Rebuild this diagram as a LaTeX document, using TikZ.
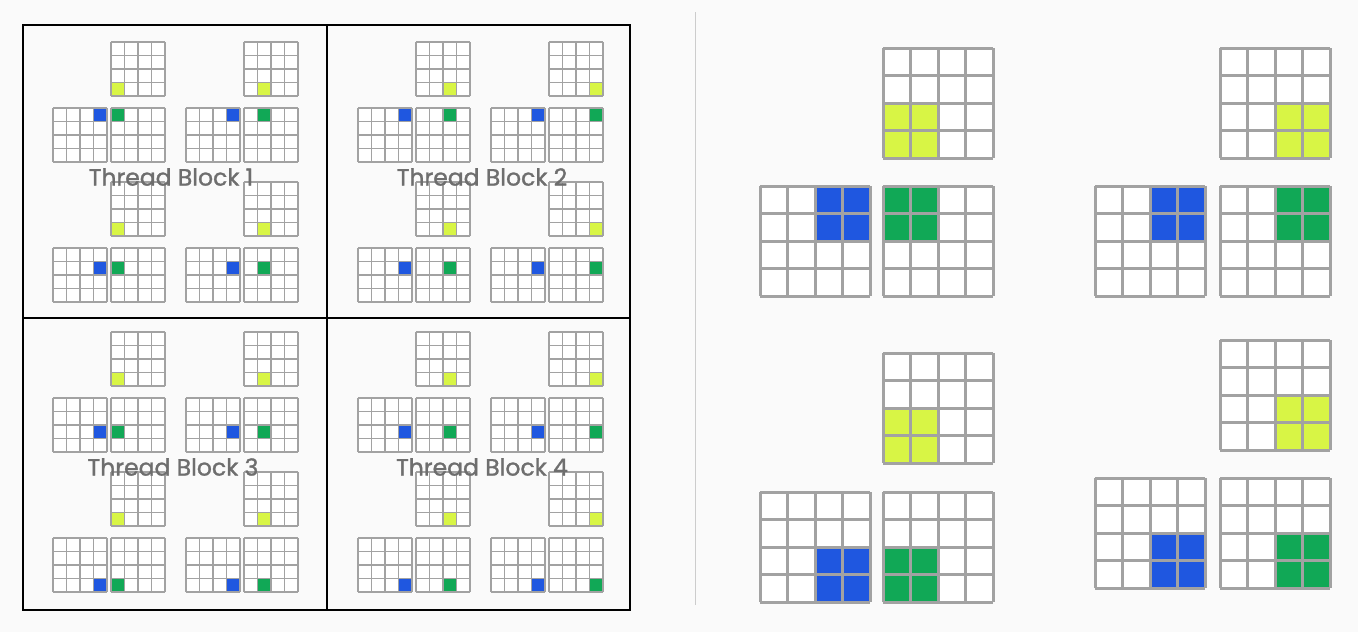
\documentclass[tikz,border=0pt]{standalone}
\usepackage{fontspec}
\setmainfont{Poppins}
\newfontfamily\labfont{Poppins}[FakeBold=1.3]
\definecolor{bg}{HTML}{FAFAFA}
\definecolor{gl}{HTML}{A2A2A2}
\definecolor{cy}{HTML}{D8F545}
\definecolor{cb}{HTML}{1F57E0}
\definecolor{cg}{HTML}{11A856}
\definecolor{tg}{HTML}{6E6E6E}
\newcommand\hlc[7]{\fill[#6] ({#1+#5*#3/4},{#2+#4*#3/4}) rectangle ++({#7*#3/4},{#7*#3/4});}
\newcommand\glines[4]{\fill[white] (#1,#2) rectangle ++(#3,#3);}
\newcommand\gdraw[4]{\foreach \q in {0,...,4}{\draw[gl,line width=#4] ({#1+\q*#3/4},#2) -- ++(0,#3); \draw[gl,line width=#4] (#1,{#2+\q*#3/4}) -- ++(#3,0);}}
\begin{document}
\begin{tikzpicture}[x=1pt,y=-1pt]
\fill[bg] (0,0) rectangle (1358,632);
\useasboundingbox (0,0) rectangle (1358,632);
% left
\foreach \bx in {0,1}{\foreach \by in {0,1}{
 \foreach \gx in {0,1}{\foreach \gy in {0,1}{
  \pgfmathsetmacro\ox{305*\bx+133*\gx}
  \pgfmathsetmacro\oy{290*\by+140*\gy}
  \pgfmathtruncatemacro\ii{2*\by+\gy}
  \pgfmathtruncatemacro\jj{2*\bx+\gx}
  \glines{111+\ox}{42+\oy}{54}{}
  \glines{53+\ox}{108+\oy}{54}{}
  \glines{111+\ox}{108+\oy}{54}{}
  \hlc{111+\ox}{42+\oy}{54}{3}{\jj}{cy}{1}
  \hlc{53+\ox}{108+\oy}{54}{\ii}{3}{cb}{1}
  \hlc{111+\ox}{108+\oy}{54}{\ii}{\jj}{cg}{1}
  \gdraw{111+\ox}{42+\oy}{54}{1.6pt}
  \gdraw{53+\ox}{108+\oy}{54}{1.6pt}
  \gdraw{111+\ox}{108+\oy}{54}{1.6pt}
 }}}}
\draw[line width=1.3pt] (23,25) rectangle (630,610);
\draw[line width=1.3pt] (327,25) -- (327,610);
\draw[line width=1.3pt] (23,318) -- (630,318);
\tikzset{lab/.style={text=tg,font=\labfont\fontsize{23.5}{25}\selectfont}}
\node[lab] (t1) at (171,177) {Thread Block 1};
\node[lab] (t2) at (482,177) {Thread Block 2};
\node[lab] (t3) at (173,467) {Thread Block 3};
\node[lab] (t4) at (482,467) {Thread Block 4};
\draw[gray!40,line width=1pt] (695,12) -- (695,605);
% right
\foreach \ax/\ay/\bxx/\byy/\ai/\bi/\cj in {883/48/760/186/0/0/0, 1220/48/1095/186/2/0/2, 883/353/760/492/0/2/0, 1220/340/1095/478/2/2/2}{
  \glines{\ax}{\ay}{110}{}
  \glines{\bxx}{\byy}{110}{}
  \glines{\ax}{\byy}{110}{}
  \hlc{\ax}{\ay}{110}{2}{\ai}{cy}{2}
  \hlc{\bxx}{\byy}{110}{\bi}{2}{cb}{2}
  \hlc{\ax}{\byy}{110}{\bi}{\cj}{cg}{2}
  \gdraw{\ax}{\ay}{110}{3pt}
  \gdraw{\bxx}{\byy}{110}{3pt}
  \gdraw{\ax}{\byy}{110}{3pt}
}
\end{tikzpicture}
\end{document}
